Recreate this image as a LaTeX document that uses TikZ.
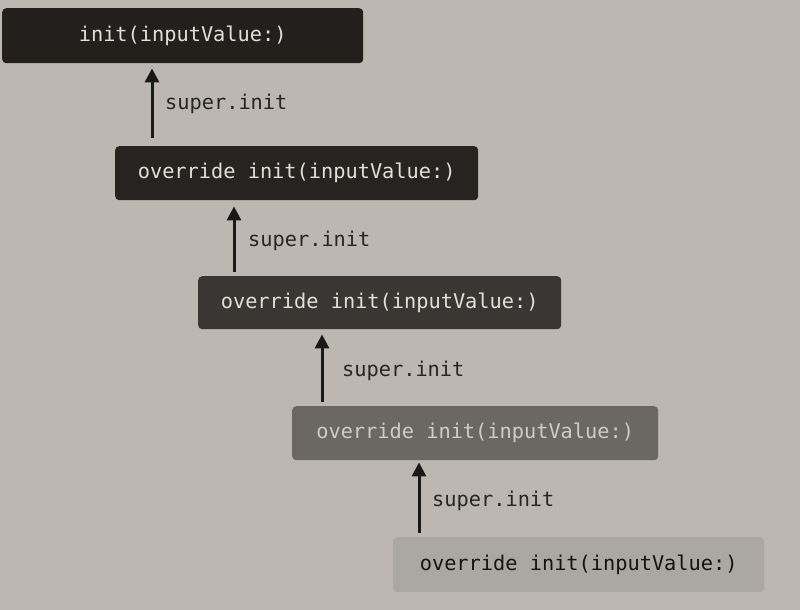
\documentclass[tikz,border=0pt]{standalone}
\usepackage{fontspec}
\setmonofont{DejaVu Sans Mono}
\usetikzlibrary{arrows.meta,calc}
\definecolor{bg}{HTML}{BCB7B0}
\definecolor{fillA}{HTML}{221F1D}
\definecolor{fillB}{HTML}{262321}
\definecolor{fillC}{HTML}{393634}
\definecolor{fillD}{HTML}{6B6864}
\definecolor{fillE}{HTML}{ABA8A3}
\definecolor{txtA}{HTML}{E2DFDA}
\definecolor{txtD}{HTML}{CFCBC5}
\definecolor{txtE}{HTML}{141312}
\tikzset{
  callbox/.style={rectangle, rounded corners=4pt, anchor=north west, inner sep=0pt,
    font=\ttfamily\fontsize{20.3}{23}\selectfont},
  uparrow/.style={line width=3pt, -{Triangle[width=14pt,length=14pt]}, color=black!90},
  lbl/.style={anchor=west, inner sep=0pt, font=\ttfamily\fontsize{20.3}{23}\selectfont, text=black!85}
}
\begin{document}
\begin{tikzpicture}[x=1pt,y=-1pt]
\fill[bg] (0,0) rectangle (800,610);
\useasboundingbox (0,0) rectangle (800,610);
% boxes
\node[callbox, fill=fillA, text=txtA, minimum width=361pt, minimum height=55pt] (b1) at (2,8) {init(inputValue:)};
\node[callbox, fill=fillB, text=txtA, minimum width=363pt, minimum height=54pt] (b2) at (115,146) {override init(inputValue:)};
\node[callbox, fill=fillC, text=txtA, minimum width=363pt, minimum height=53pt] (b3) at (198,276) {override init(inputValue:)};
\node[callbox, fill=fillD, text=txtD, minimum width=366pt, minimum height=54pt] (b4) at (292,406) {override init(inputValue:)};
\node[callbox, fill=fillE, text=txtE, minimum width=371pt, minimum height=55pt] (b5) at (393,537) {override init(inputValue:)};
% arrow x positions
\coordinate (a1) at (152,0);
\coordinate (a2) at (234,0);
\coordinate (a3) at (322,0);
\coordinate (a4) at (419,0);
\draw[uparrow] ([yshift=8pt]b2.north -| a1) -- ([yshift=-5pt]b1.south -| a1);
\draw[uparrow] ([yshift=4pt]b3.north -| a2) -- ([yshift=-6pt]b2.south -| a2);
\draw[uparrow] ([yshift=4pt]b4.north -| a3) -- ([yshift=-5pt]b3.south -| a3);
\draw[uparrow] ([yshift=4pt]b5.north -| a4) -- ([yshift=-2pt]b4.south -| a4);
% labels
\node[lbl] (l1) at (165,104) {super.init};
\node[lbl] (l2) at (248,241) {super.init};
\node[lbl] (l3) at (342,371) {super.init};
\node[lbl] (l4) at (432,501) {super.init};
\end{tikzpicture}
\end{document}
